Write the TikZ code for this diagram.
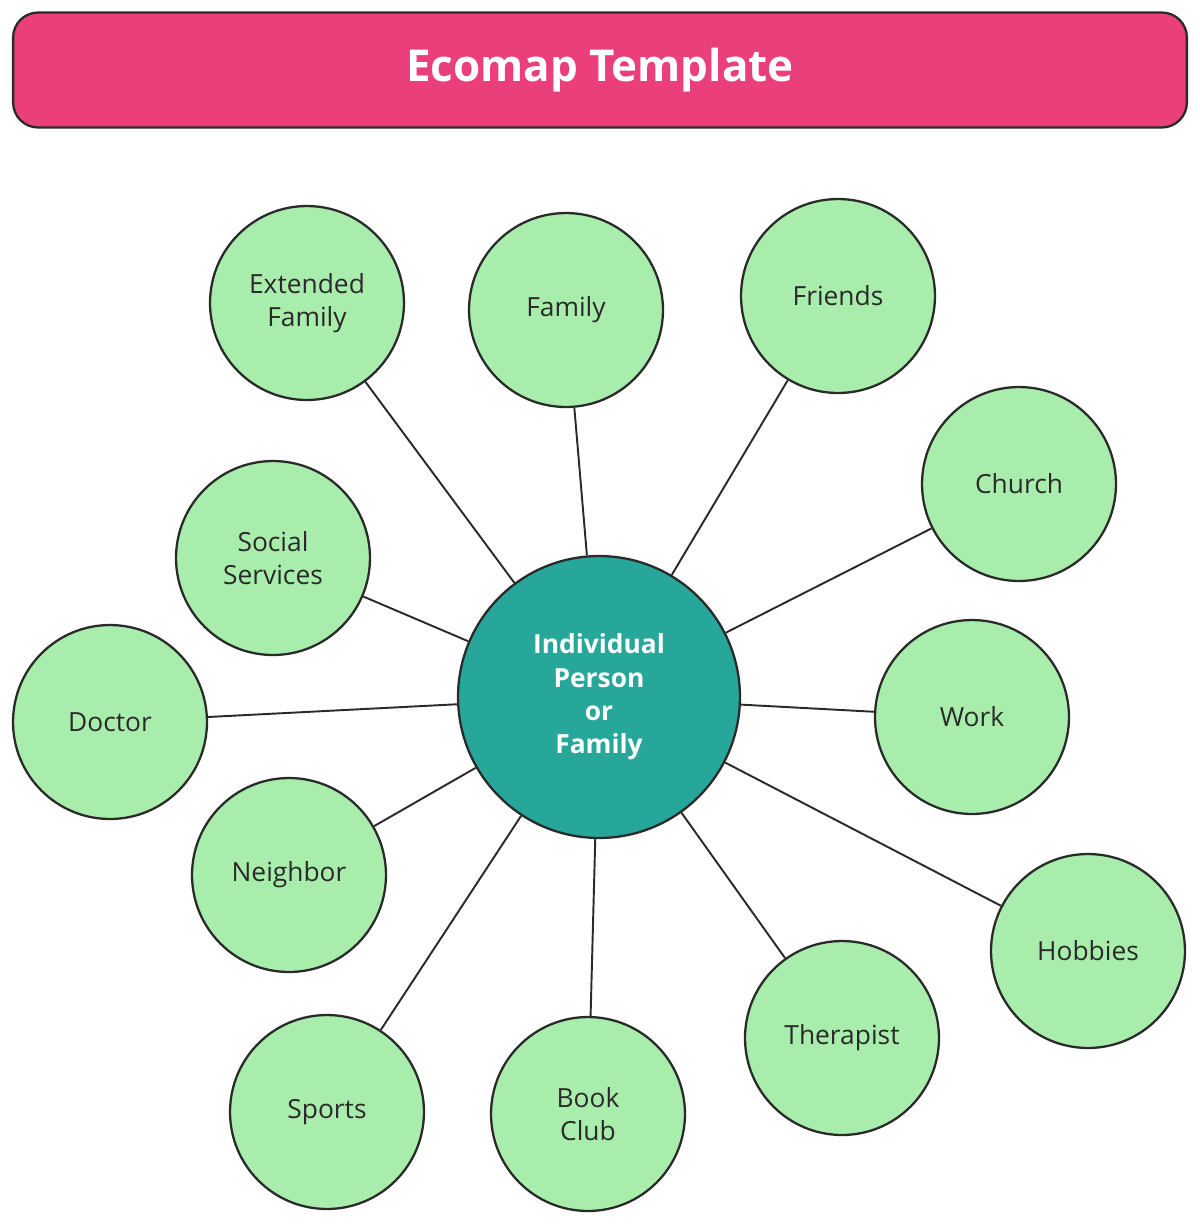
\documentclass[tikz,border=0pt]{standalone}
\usepackage{fontspec}
\setmainfont{Open Sans}
\usetikzlibrary{positioning}

\definecolor{bannerpink}{HTML}{EA3F7A}
\definecolor{leafgreen}{HTML}{A9EDAC}
\definecolor{hubteal}{HTML}{27A69A}
\definecolor{inkgrey}{HTML}{2A2A2A}

\tikzset{
  leaf/.style={circle,draw=inkgrey,line width=1.3pt,fill=leafgreen,minimum size=3.88cm,
    align=center,font=\fontsize{15}{19}\selectfont,text=inkgrey,inner sep=0pt},
  hub/.style={circle,draw=inkgrey,line width=1.3pt,fill=hubteal,minimum size=5.64cm,
    align=center,font=\fontsize{15}{19}\selectfont\bfseries,text=white,inner sep=0pt},
  tie/.style={draw=inkgrey,line width=1.1pt}
}

\begin{document}
\begin{tikzpicture}[x=0.02cm,y=-0.02cm]
  \useasboundingbox (0,0) rectangle (1200,1225);

  % banner
  \node[draw=inkgrey,line width=1.3pt,fill=bannerpink,rounded corners=0.5cm,
    minimum width=23.48cm,minimum height=2.3cm,text=white,
    font=\fontsize{25}{30}\selectfont\bfseries] (title) at (600,70) {Ecomap Template};

  % hub
  \node[hub] (hub) at (599,697) {Individual\\Person\\or\\Family};

  % satellites
  \node[leaf] (extfam) at (307,303) {Extended\\Family};
  \node[leaf] (family) at (566,310) {Family};
  \node[leaf] (friends) at (838,296) {Friends};
  \node[leaf] (church) at (1019,484) {Church};
  \node[leaf] (social) at (273,558) {Social\\Services};
  \node[leaf] (work) at (972,717) {Work};
  \node[leaf] (doctor) at (110,722) {Doctor};
  \node[leaf] (neighbor) at (289,875) {Neighbor};
  \node[leaf] (hobbies) at (1088,951) {Hobbies};
  \node[leaf] (sports) at (327,1112) {Sports};
  \node[leaf] (bookclub) at (588,1114) {Book\\Club};
  \node[leaf] (therapist) at (842,1038) {Therapist};

  % ties
  \foreach \s in {extfam,family,friends,church,social,work,doctor,neighbor,hobbies,sports,bookclub,therapist}
    \draw[tie] (hub) -- (\s);
\end{tikzpicture}
\end{document}
